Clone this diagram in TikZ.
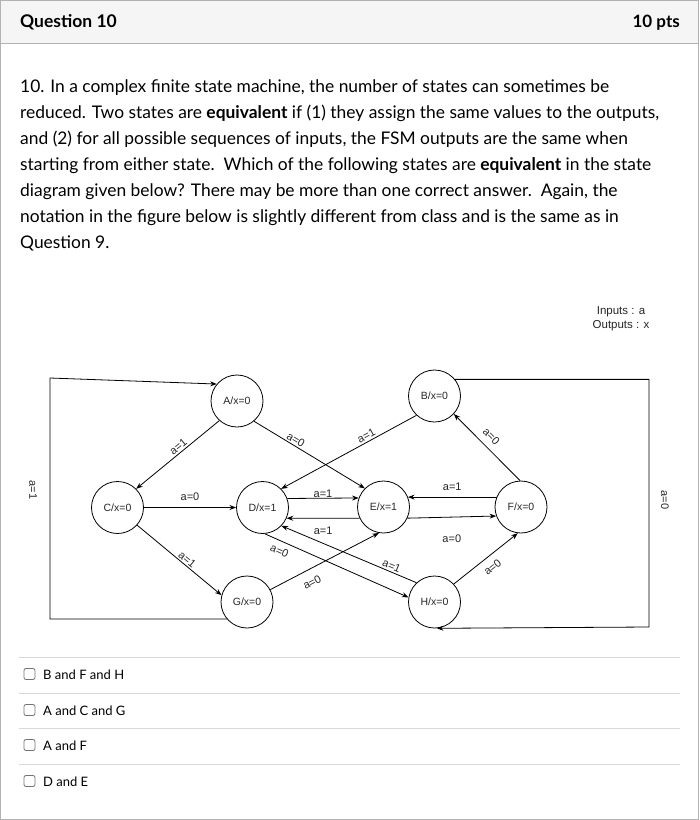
\documentclass[tikz,border=0pt]{standalone}
\usepackage{fontspec}
\setmainfont{Lato}
\newfontfamily\arial{Liberation Sans}
\usetikzlibrary{arrows.meta, positioning, shapes}
\tikzset{
    every node/.style={inner sep=2pt},
    arr/.style={line width=0.8pt, -{Stealth[scale=1.0]}},
    loopline/.style={line width=0.8pt, -{Stealth[scale=1.0]}},
    state/.style={circle, draw, line width=0.8pt, minimum size=52pt, inner sep=0pt,
        font=\arial\fontsize{10.5}{12}\selectfont, text=black!85},
    lbl/.style={font=\arial\fontsize{11}{13}\selectfont, text=black!85, inner sep=1.5pt},
    qtext/.style={anchor=base west, inner sep=0pt, font=\fontsize{17.4}{21}\selectfont},
    choice/.style={anchor=base west, inner sep=0pt, font=\fontsize{13}{16}\selectfont},
    tickbox/.style={draw=black!55, line width=0.8pt, rounded corners=2pt,
        minimum size=11pt, inner sep=0pt},
    sepline/.style={draw=black!15, line width=0.8pt}
}

\begin{document}
\begin{tikzpicture}[x=1pt, y=-1pt]
    \useasboundingbox (0,0) rectangle (700,820);
    % card and header
    \fill[black!4] (0.5,0.5) rectangle (698,43);
    \draw[black!30, line width=1pt] (0.5,0.5) rectangle (698,819.5);
    \draw[black!30, line width=1pt] (0.5,43) -- (698,43);
    \node[anchor=base west, inner sep=0pt, font=\bfseries\fontsize{17.5}{20}\selectfont] (title) at (20,27) {Question 10};
    \node[anchor=base east, inner sep=0pt, font=\bfseries\fontsize{17}{20}\selectfont] (pts) at (680,27) {10 pts};

    % question text
    \node[qtext] (q1) at (20,92) {10. In a complex finite state machine, the number of states can sometimes be};
    \node[qtext] (q2) at (20,118) {reduced. Two states are \textbf{equivalent} if (1) they assign the same values to the outputs,};
    \node[qtext] (q3) at (20,144) {and (2) for all possible sequences of inputs, the FSM outputs are the same when};
    \node[qtext] (q4) at (20,170) {starting from either state.\ \ Which of the following states are \textbf{equivalent} in the state};
    \node[qtext] (q5) at (20,196) {diagram given below? There may be more than one correct answer.\ \ Again, the};
    \node[qtext] (q6) at (20,222) {notation in the figure below is slightly different from class and is the same as in};
    \node[qtext] (q7) at (20,248) {Question 9.};

    \node[lbl, align=center, font=\arial\fontsize{11.5}{14}\selectfont] (io) at (621,319) {Inputs : a\\Outputs : x};

    % states
    \node[state] (A) at (237,401) {A/x=0};
    \node[state] (B) at (434.5,396) {B/x=0};
    \node[state] (C) at (117.5,507.5) {C/x=0};
    \node[state] (D) at (262.5,507.5) {D/x=1};
    \node[state] (E) at (383.5,507) {E/x=1};
    \node[state] (F) at (521,507) {F/x=0};
    \node[state] (G) at (247,602) {G/x=0};
    \node[state] (H) at (434.5,602) {H/x=0};
    \coordinate (lft) at (50,378);
    \coordinate (rgt) at (649,627);

    % transitions
    \draw[arr] (A.-132) -- node[lbl, sloped, above, pos=0.45] {a=1} (C.45);
    \draw[arr] (A.-50) -- node[lbl, sloped, above, pos=0.35] {a=0} (E.135);
    \draw[arr] (B.-133) -- node[lbl, sloped, above, pos=0.35] {a=1} (D.45);
    \draw[arr] (F.92) -- node[lbl, sloped, above=5pt, pos=0.55] {a=0} (B.-43);
    \draw[arr] (C) -- node[lbl, above=5pt] {a=0} (D);
    \draw[arr] (C.-42) -- node[lbl, sloped, above, pos=0.55] {a=1} (G.165);
    \draw[arr] (D.20) -- node[lbl, above=-1pt] {a=1} (E.160);
    \draw[arr] (E.-155) -- node[lbl, below=7pt] {a=1} (D.-24);
    \draw[arr] (F.158) -- node[lbl, above=5pt] {a=1} (E.22);
    \draw[arr] (E.-25) -- node[lbl, below=16pt] {a=0} (F.200);
    \draw[arr] (D.-85) -- node[lbl, sloped, below=4pt, pos=0.13] {a=0} (H.170);
    \draw[arr] (G.28) -- node[lbl, sloped, below=7pt, pos=0.33] {a=0} (E.-100);
    \draw[arr] (H.133) -- node[lbl, sloped, above, pos=0.2] {a=1} (D.-44);
    \draw[arr] (H.43) -- node[lbl, sloped, below=5pt, pos=0.5] {a=0} (F.-97);
    \draw[loopline] (G.-140) -| (lft) -- (A.140);
    \draw[loopline] (B.39) -| (rgt) -- (H.-85);
    \node[lbl, rotate=-90] (la) at (33,490) {a=1};
    \node[lbl, rotate=-90] (lb) at (665,500) {a=0};

    % answer choices
    \foreach \y/\txt [count=\i] in {674/B and F and H, 710/A and C and G, 745/A and F, 781/D and E} {
        \draw[sepline] (19,\y-17) -- (680,\y-17);
        \node[tickbox] (box\i) at (29.5,\y) {};
        \node[choice] (ans\i) at (43,\y+5) {\txt};
    }
\end{tikzpicture}
\end{document}
